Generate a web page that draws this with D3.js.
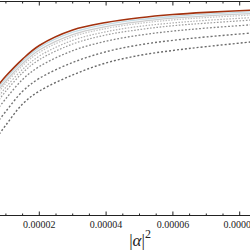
<!DOCTYPE html>
<html><head><meta charset="utf-8">
<script src="https://cdn.jsdelivr.net/npm/d3@7"></script>
<style>html,body{margin:0;padding:0;background:#fff;overflow:hidden}</style>
</head><body>
<script>
const xValues = [0.000008, 0.00001, 0.000015, 0.00002, 0.00003, 0.00004, 0.00005, 0.00006, 0.00007, 0.000085];
const seriesRed   = [0.614, 0.651, 0.730, 0.793, 0.865, 0.900, 0.922, 0.937, 0.947, 0.958];
const seriesS1    = [0.602, 0.640, 0.720, 0.783, 0.855, 0.891, 0.913, 0.928, 0.939, 0.951];
const seriesS2    = [0.591, 0.628, 0.709, 0.772, 0.844, 0.881, 0.904, 0.920, 0.931, 0.943];
const seriesD1    = [0.579, 0.617, 0.699, 0.761, 0.834, 0.872, 0.896, 0.912, 0.923, 0.936];
const seriesD2    = [0.560, 0.599, 0.682, 0.744, 0.817, 0.857, 0.882, 0.898, 0.910, 0.924];
const seriesD3    = [0.542, 0.581, 0.666, 0.727, 0.800, 0.842, 0.867, 0.885, 0.897, 0.913];
const seriesD4    = [0.507, 0.546, 0.635, 0.695, 0.769, 0.813, 0.841, 0.860, 0.874, 0.891];
const seriesD5    = [0.447, 0.487, 0.580, 0.640, 0.714, 0.764, 0.796, 0.817, 0.833, 0.853];
const seriesD6    = [0.381, 0.423, 0.521, 0.581, 0.656, 0.712, 0.747, 0.770, 0.788, 0.812];
const majorTicks = [0.00002, 0.00004, 0.00006, 0.00008];
const minorTicks = [0.000005, 0.00001, 0.000015, 0.000025, 0.00003, 0.000035, 0.000045, 0.00005, 0.000055, 0.000065, 0.00007, 0.000075, 0.000085];
const tickLabels = ["0.00002", "0.00004", "0.00006", "0.00008"];

const series = [
  {v: seriesD6, c: "#6a6a6a", w: 1.4, d: "2,2"},
  {v: seriesD5, c: "#727272", w: 1.4, d: "2,2"},
  {v: seriesD4, c: "#858585", w: 1.3, d: "1.8,1.8"},
  {v: seriesD3, c: "#9c9c9c", w: 1.2, d: "1.6,1.6"},
  {v: seriesD2, c: "#b0b0b0", w: 1.2, d: "1.5,1.5"},
  {v: seriesD1, c: "#c2c2c2", w: 1.2, d: "1.5,1.3"},
  {v: seriesS2, c: "#cdcdcd", w: 1.3, d: null},
  {v: seriesS1, c: "#c4dbe4", w: 1.3, d: null},
  {v: seriesRed, c: "#a3320f", w: 1.6, d: null}
];

const FONT = "'Liberation Serif', 'DejaVu Serif', serif";
const W = 250, H = 250;
const frameTop = 1.5, frameBottom = 215.5;
const svg = d3.select("body").append("svg").attr("width", W).attr("height", H);
const x = d3.scaleLinear().domain([0, 0.0001]).range([-27.5, 306.5]);
const y = d3.scaleLinear().domain([0, 1]).range([216, 1]);

svg.append("clipPath").attr("id", "clip").append("rect")
  .attr("x", -30).attr("y", frameTop).attr("width", 340).attr("height", frameBottom - frameTop);

const line = d3.line().x((d, i) => x(xValues[i])).y(d => y(d)).curve(d3.curveCatmullRom.alpha(0.5));
const g = svg.append("g").attr("clip-path", "url(#clip)");
series.forEach(s => {
  g.append("path").attr("d", line(s.v)).attr("fill", "none")
    .attr("stroke", s.c).attr("stroke-width", s.w)
    .attr("stroke-dasharray", s.d);
});

svg.append("line").attr("x1", 0).attr("x2", W).attr("y1", frameTop).attr("y2", frameTop).attr("stroke", "#222").attr("stroke-width", 1.2);
svg.append("line").attr("x1", 0).attr("x2", W).attr("y1", frameBottom).attr("y2", frameBottom).attr("stroke", "#222").attr("stroke-width", 1.2);

const tg = svg.append("g").attr("stroke", "#222").attr("stroke-width", 1);
majorTicks.forEach(t => {
  tg.append("line").attr("x1", x(t)).attr("x2", x(t)).attr("y1", frameBottom).attr("y2", frameBottom - 4);
  tg.append("line").attr("x1", x(t)).attr("x2", x(t)).attr("y1", frameTop).attr("y2", frameTop + 4);
});
minorTicks.forEach(t => {
  tg.append("line").attr("x1", x(t)).attr("x2", x(t)).attr("y1", frameBottom).attr("y2", frameBottom - 2);
  tg.append("line").attr("x1", x(t)).attr("x2", x(t)).attr("y1", frameTop).attr("y2", frameTop + 2);
});

majorTicks.forEach((t, i) => {
  svg.append("text").attr("x", x(t)).attr("y", 227.5).attr("text-anchor", "middle")
    .style("font-family", FONT).attr("font-size", 10).attr("fill", "#222").text(tickLabels[i]);
});

const lab = svg.append("text").attr("x", 140).attr("y", 246).attr("text-anchor", "middle")
  .style("font-family", FONT).attr("font-size", 17).attr("fill", "#222");
lab.append("tspan").text("|");
lab.append("tspan").attr("font-style", "italic").text("α");
lab.append("tspan").text("|");
lab.append("tspan").attr("font-size", 12).attr("dy", -8).text("2");
</script>
</body></html>
